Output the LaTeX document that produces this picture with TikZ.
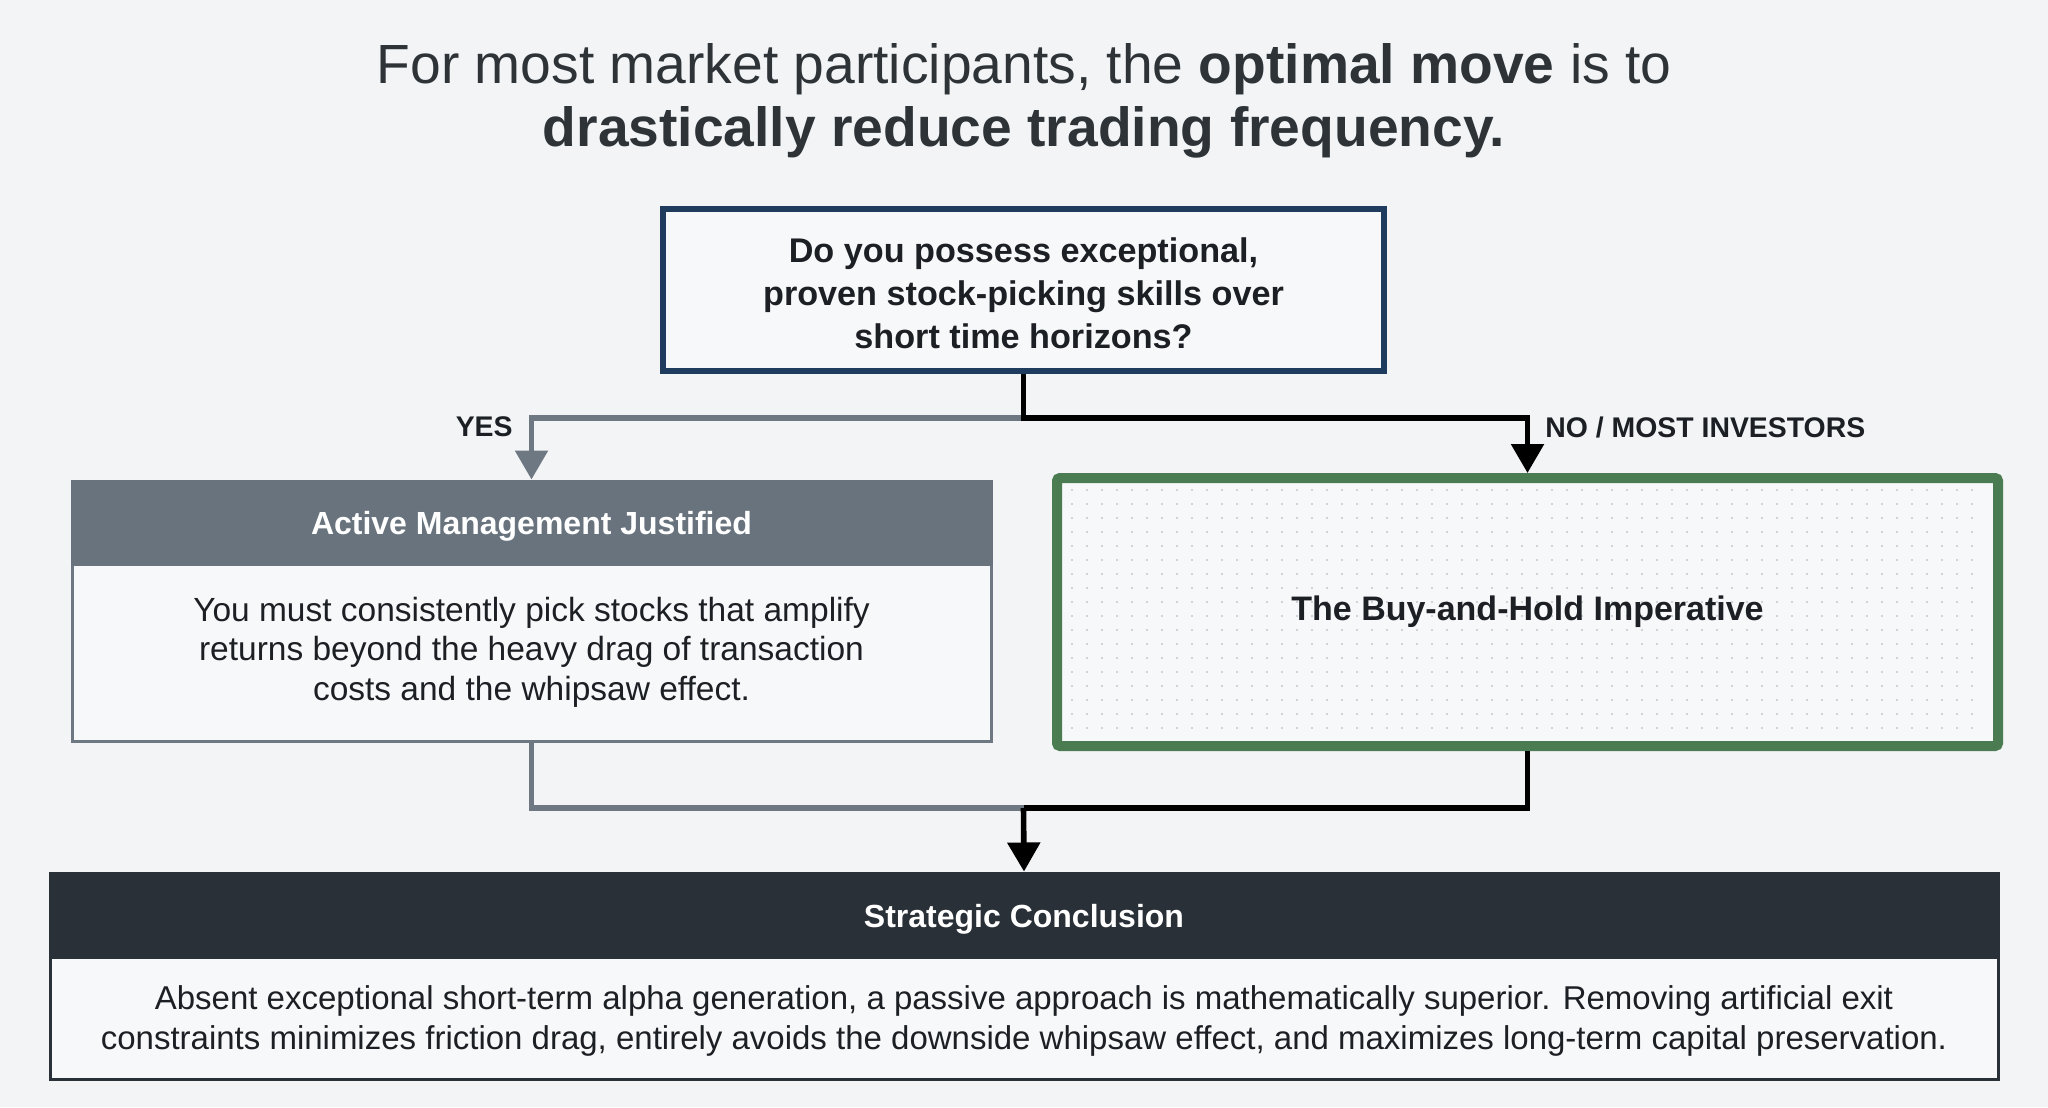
\documentclass[tikz,border=0pt]{standalone}
\usepackage{fontspec}
\setmainfont{Liberation Sans}
\usetikzlibrary{arrows.meta}
\definecolor{bg}{HTML}{F2F4F6}
\definecolor{navy}{HTML}{1F3B5E}
\definecolor{slate}{HTML}{68737E}
\definecolor{lineg}{HTML}{6E7882}
\definecolor{grn}{HTML}{4B7B50}
\definecolor{dark}{HTML}{2A3038}
\definecolor{ink}{HTML}{1C2024}
\definecolor{boxbg}{HTML}{F7F8F9}
\definecolor{dotc}{HTML}{C2C7CC}
\definecolor{titlec}{HTML}{2E3338}
\tikzset{
  qbox/.style={draw=navy, line width=2.75pt, fill=boxbg, align=center, text=ink, inner sep=0pt},
  bodybox/.style={draw=#1, line width=1.5pt, fill=boxbg, inner sep=0pt, align=center, text=ink},
  headbox/.style={fill=#1, draw=#1, line width=1.5pt, inner sep=0pt, text=white, font=\bfseries\fontsize{16}{19}\selectfont},
  grayconn/.style={draw=lineg, line width=2.8pt},
  blackconn/.style={draw=black, line width=2.8pt},
  tipg/.style={-{Triangle[width=16pt,length=14.5pt]}},
  lbl/.style={font=\bfseries\fontsize{14.2}{17}\selectfont, text=ink, inner sep=0pt}
}
\begin{document}
\begin{tikzpicture}[x=0.5pt,y=-0.5pt]
\fill[bg] (0,0) rectangle (2048,1107);
\useasboundingbox (0,0) rectangle (2048,1107);

% title
\node[align=center, text=titlec, font=\fontsize{27.6}{31.5}\selectfont] (title) at (1024,101)
  {For most market participants, the \textbf{optimal move} is to\\ \textbf{drastically reduce trading frequency.}};

% question
\node[qbox, minimum width=360.5pt, minimum height=81pt] (q) at (1023.5,290) {};
\node[align=center, text=ink, font=\bfseries\fontsize{17.1}{21.5}\selectfont, inner sep=0pt] (qt) at (1023.5,293)
  {Do you possess exceptional,\\ proven stock-picking skills over\\ short time horizons?};

% left box
\node[bodybox=lineg, minimum width=459.5pt, minimum height=130pt] (L) at (531.5,611) {};
\node[headbox=slate, minimum width=459.5pt, minimum height=41.5pt] (Lh) at (531.5,522.5) {};
\node[text=white, font=\bfseries\fontsize{16}{19}\selectfont, inner sep=0pt] (Lht) at (531.5,526) {Active Management Justified};
\node[align=center, text=ink, font=\fontsize{16.75}{19.8}\selectfont, inner sep=0pt] (Lt) at (531.5,652)
  {You must consistently pick stocks that amplify\\ returns beyond the heavy drag of transaction\\ costs and the whipsaw effect.};

% right box
\node[fill=boxbg, minimum width=470.5pt, minimum height=134pt, inner sep=0pt] (R) at (1527.5,612) {};
\foreach \x in {1072,1087,...,1985} {
  \foreach \y in {490,504,...,735} {
    \fill[dotc] (\x,\y) circle (0.6pt);
  }
}
\node[draw=grn, line width=5pt, rounded corners=1.5pt, minimum width=470.5pt, minimum height=134pt, inner sep=0pt] (Rb) at (1527.5,612) {};
\node[text=ink, font=\bfseries\fontsize{17}{20}\selectfont, inner sep=0pt] (Rt) at (1527.5,612) {The Buy-and-Hold Imperative};

% bottom box
\node[bodybox=dark, minimum width=974pt, minimum height=103pt] (B) at (1024,976) {};
\node[headbox=dark, minimum width=974pt, minimum height=42pt] (Bh) at (1024,915) {};
\node[text=white, font=\bfseries\fontsize{16}{19}\selectfont, inner sep=0pt] (Bht) at (1024,919) {Strategic Conclusion};
\node[align=center, text=ink, font=\fontsize{16.5}{20.2}\selectfont, inner sep=0pt] (Bt) at (1024,1021)
  {Absent exceptional short-term alpha generation, a passive approach is mathematically superior. Removing artificial exit\\ constraints minimizes friction drag, entirely avoids the downside whipsaw effect, and maximizes long-term capital preservation.};

% connectors
\coordinate (j1) at (1023.5,418);
\coordinate (j2) at (1023.5,808);
\draw[grayconn, tipg, lineg] (j1) -| (Lh.north);
\draw[blackconn, tipg] (q.south) -- (j1) -| (Rb.north);
\draw[grayconn] (L.south) |- (j2);
\draw[blackconn] (Rb.south) |- (j2);
\draw[blackconn, tipg] (j2) -- (Bh.north);

% labels
\node[lbl, anchor=east] (yes) at (513,427) {YES};
\node[lbl, anchor=west] (no) at (1545,427) {NO / MOST INVESTORS};
\end{tikzpicture}
\end{document}
